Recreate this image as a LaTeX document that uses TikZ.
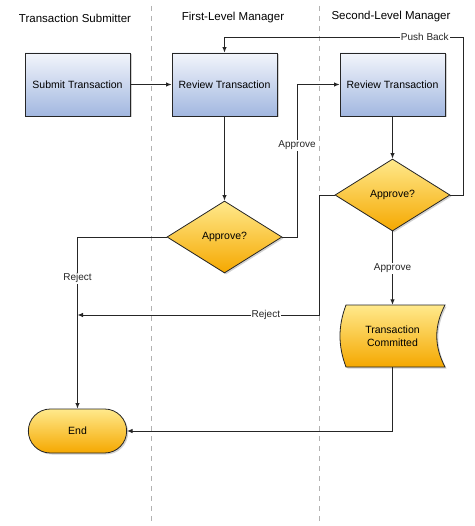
\documentclass[tikz,border=0pt]{standalone}
\usepackage{fontspec}
\setmainfont{Liberation Sans}
\usetikzlibrary{arrows.meta, positioning, shapes.geometric, shapes.misc, shadows}

\definecolor{boxtop}{HTML}{F2F5FB}
\definecolor{boxbottom}{HTML}{A2B7E0}
\definecolor{goldtop}{HTML}{FFE98C}
\definecolor{goldbottom}{HTML}{F5A800}
\definecolor{edgeline}{HTML}{262626}

\begin{document}
\begin{tikzpicture}[x=1pt, y=-1pt,
    boxshadow/.style={drop shadow={shadow xshift=1.5pt, shadow yshift=-1.5pt, opacity=0.3, fill=black!60}},
    procbox/.style={rectangle, draw=edgeline, line width=0.8pt, top color=boxtop, bottom color=boxbottom,
        minimum width=105pt, minimum height=63pt, font=\fontsize{10.5}{12}\selectfont, boxshadow},
    decision/.style={diamond, draw=edgeline, line width=0.8pt, top color=goldtop, bottom color=goldbottom,
        minimum width=115pt, minimum height=72pt, inner sep=0pt, font=\fontsize{10.5}{12}\selectfont, boxshadow},
    terminal/.style={rounded rectangle, draw=edgeline, line width=0.8pt, top color=goldtop, bottom color=goldbottom,
        minimum width=105pt, minimum height=44pt, font=\fontsize{10.5}{12}\selectfont, boxshadow},
    storedfill/.style={draw=edgeline, line width=0.8pt, top color=goldtop, bottom color=goldbottom, boxshadow},
    plain/.style={inner sep=0pt, minimum width=96pt, minimum height=62pt, align=center, font=\fontsize{10.5}{13}\selectfont},
    lanetitle/.style={font=\fontsize{11.5}{13}\selectfont},
    lbl/.style={fill=white, inner sep=1pt, font=\fontsize{10}{12}\selectfont},
    lane/.style={gray!60, line width=0.8pt, dash pattern=on 5pt off 5pt},
    flow/.style={edgeline, line width=0.9pt, -{Latex[length=5.5pt, width=4.5pt]}},
    line/.style={edgeline, line width=0.9pt}]
    \useasboundingbox (0,0) rectangle (474,526);

    % Lanes and their titles
    \draw[lane] (151,6) -- (151,526);
    \draw[lane] (319,6) -- (319,526);
    \node[lanetitle] (t1) at (75,18) {Transaction Submitter};
    \node[lanetitle] (t2) at (233,18) {First-Level Manager};
    \node[lanetitle] (t3) at (391,17) {Second-Level Manager};

    % Steps
    \node[procbox] (submit) at (77.5,84.5) {Submit Transaction};
    \node[procbox] (review1) at (224.5,84.5) {Review Transaction};
    \node[procbox] (review2) at (392.5,84.5) {Review Transaction};

    \node[decision] (dec1) at (224.5,237) {Approve?};
    \node[decision] (dec2) at (392.5,195) {Approve?};

    \path[storedfill] (346,305) -- (445,305) .. controls (434,326) and (434,346) .. (445,367)
        -- (346,367) .. controls (338,346) and (338,326) .. (346,305) -- cycle;
    \node[plain] (commit) at (392.5,336) {Transaction\\Committed};

    \node[terminal] (end) at (77.5,431) {End};

    \coordinate (pushtop) at (463,37);
    \coordinate (join) at (77.5,315);

    % Draw connections
    \draw[flow] (submit) -- (review1);
    \draw[flow] (review1) -- (dec1);
    \draw[flow] (review2) -- (dec2);

    \draw[flow] (dec1.east) -- (297,237) |- (review2.west) node[pos=0.3, lbl] {Approve};
    \draw[flow] (dec2.east) -| (pushtop) -- (review1.north |- pushtop) node[pos=0.16, lbl] {Push Back} -- (review1.north);

    \draw[flow] (dec1.west) -| (end.north) node[pos=0.62, lbl] {Reject};
    \draw[flow] (dec2.west) -- (319,195) |- (join) node[pos=0.61, lbl] {Reject};

    \draw[flow] (dec2.south) -- (commit.north) node[midway, lbl] {Approve};
    \draw[flow] (commit.south) |- (end.east);
\end{tikzpicture}
\end{document}
